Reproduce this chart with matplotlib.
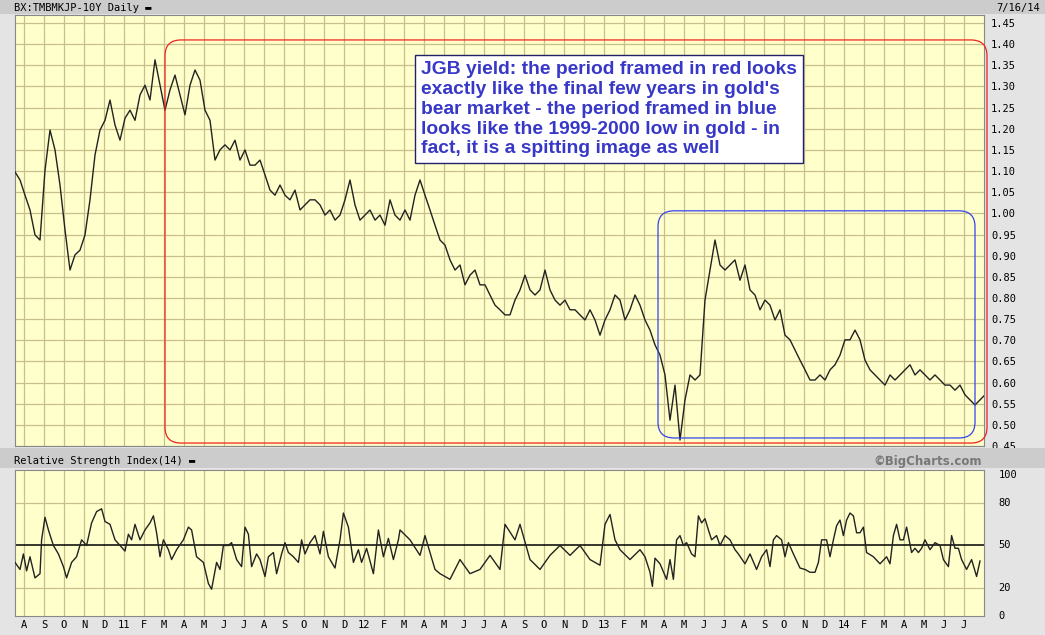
import numpy as np
import matplotlib
matplotlib.use("Agg")
import matplotlib.pyplot as plt
from matplotlib.patches import FancyBboxPatch

# 10Y JGB yield, roughly weekly from mid-July 2010 to mid-July 2014
yields = [1.098,1.079,1.043,1.008,0.949,0.937,1.102,1.197,1.150,1.067,0.961,0.866,0.902,0.913,0.949,1.032,1.138,1.197,1.220,1.268,
1.209,1.173,1.225,1.244,1.220,1.280,1.303,1.268,1.363,1.303,1.244,1.292,1.327,1.280,1.233,1.303,1.339,1.315,1.244,1.220,
1.126,1.150,1.162,1.150,1.173,1.126,1.150,1.114,1.114,1.126,1.091,1.055,1.043,1.067,1.043,1.032,1.055,1.008,1.020,1.032,
1.032,1.020,0.996,1.008,0.984,0.996,1.032,1.079,1.020,0.984,0.996,1.008,0.984,0.996,0.972,1.032,0.996,0.984,1.008,0.984,
1.043,1.079,1.043,1.008,0.972,0.937,0.925,0.890,0.866,0.878,0.831,0.854,0.866,0.831,0.831,0.807,0.783,0.772,0.760,0.760,
0.795,0.819,0.854,0.819,0.807,0.819,0.866,0.819,0.795,0.783,0.795,0.772,0.772,0.760,0.748,0.772,0.748,0.712,0.748,0.772,
0.807,0.795,0.748,0.772,0.807,0.783,0.748,0.724,0.689,0.665,0.618,0.511,0.594,0.464,0.559,0.618,0.606,0.618,0.795,0.866,
0.937,0.878,0.866,0.878,0.890,0.842,0.878,0.819,0.807,0.772,0.795,0.783,0.748,0.772,0.712,0.701,0.677,0.653,0.630,0.606,
0.606,0.618,0.606,0.630,0.642,0.665,0.701,0.701,0.724,0.701,0.653,0.630,0.618,0.606,0.594,0.618,0.606,0.618,0.630,0.642,
0.618,0.630,0.618,0.606,0.618,0.606,0.594,0.594,0.582,0.594,0.571,0.559,0.547,0.559,0.571]

# RSI(14): month index (0 = Aug 2010) and value
rsi_month = [-0.45,-0.2,-0.03,0.13,0.3,0.55,0.8,0.88,1.05,1.22,1.47,1.72,1.97,2.13,2.38,2.63,2.88,3.13,3.38,3.63,3.88,4.05,4.3,4.55,4.8,
5.05,5.22,5.38,5.55,5.8,6.05,6.3,6.47,6.63,6.8,6.97,7.22,7.38,7.63,7.97,8.22,8.38,8.63,8.97,9.22,9.38,9.63,9.8,9.97,10.22,10.38,
10.63,10.88,11.05,11.22,11.38,11.63,11.8,12.05,12.22,12.47,12.63,12.88,13.05,13.22,13.47,13.72,13.88,14.05,14.3,14.55,14.8,14.97,
15.22,15.55,15.8,15.97,16.22,16.47,16.72,16.88,17.13,17.47,17.72,17.97,18.22,18.47,18.72,
18.8,19.3,19.8,20.05,20.55,20.8,21.3,21.8,22.3,22.8,23.3,23.8,24.05,24.55,24.8,25.3,25.8,26.3,26.8,27.3,27.8,28.3,28.8,29.05,29.3,29.55,29.8,30.3,
30.8,31.05,31.3,31.42,31.55,31.8,32.13,32.3,32.47,32.63,32.8,32.97,33.13,33.38,33.55,33.72,33.88,34.05,34.22,34.38,34.63,34.8,35.05,35.3,
35.55,35.72,36.05,36.3,36.63,36.88,37.13,37.3,37.47,37.63,37.88,38.05,38.22,38.47,38.8,39.05,39.3,39.55,39.72,39.88,40.13,40.3,40.47,
40.63,40.8,40.97,41.13,41.3,41.47,41.63,41.8,41.97,42.13,42.47,42.8,43.13,43.3,43.47,43.63,43.8,43.97,44.13,44.38,44.55,44.72,44.88,
45.05,45.3,45.55,45.8,45.97,46.22,46.38,46.55,46.72,46.88,47.13,47.38,47.63,47.8]
rsi_vals = [38,33,44,32,42,27,30,54,70,61,50,44,35,27,38,42,54,50,66,74,76,67,65,54,50,
46,58,54,65,54,61,66,71,59,42,54,47,40,47,54,63,61,42,38,23,19,38,33,50,50,52,
40,35,63,58,35,44,40,28,42,45,30,44,52,45,42,38,54,44,52,57,44,60,
42,34,54,73,63,38,47,38,48,30,61,42,55,40,54,
61,54,43,57,33,30,26,40,30,33,43,33,65,54,65,40,33,43,50,43,50,40,36,65,72,54,47,40,
47,42,31,21,41,37,26,40,26,54,57,50,52,44,42,71,66,69,61,54,57,50,57,54,
47,44,37,44,33,42,47,35,54,57,54,42,52,44,34,33,31,31,38,54,54,42,54,
64,68,57,68,73,71,59,59,63,45,42,37,42,37,57,65,54,54,63,45,48,45,48,
54,47,52,50,40,35,57,48,48,40,33,40,28,39]

month_labels = ["A","S","O","N","D","11","F","M","A","M","J","J","A","S","O","N","D","12","F","M","A","M","J","J",
                "A","S","O","N","D","13","F","M","A","M","J","J","A","S","O","N","D","14","F","M","A","M","J","J"]
yticks = [0.45,0.50,0.55,0.60,0.65,0.70,0.75,0.80,0.85,0.90,0.95,1.00,1.05,1.10,1.15,1.20,1.25,1.30,1.35,1.40,1.45]
rsi_ticks = [0,20,50,80,100]

W, H = 1045, 635
fig = plt.figure(figsize=(W/100, H/100), dpi=100)
fig.patch.set_facecolor("#e4e4e4")
mono = "DejaVu Sans Mono"
bg = "#ffffcc"
gridc = "#c8c08c"

def fr(x0, y0, x1, y1):
    return [x0/W, 1-y1/H, (x1-x0)/W, (y1-y0)/H]

for (y0, y1) in [(0, 14), (448, 468)]:
    fig.patches.append(plt.Rectangle((0, 1-y1/H), 1, (y1-y0)/H, transform=fig.transFigure,
                                     facecolor="#cccccc", edgecolor="none", zorder=0))
fig.text(14/W, 1-8/H, "BX:TMBMKJP-10Y Daily \u25AC", family=mono, fontsize=7.5, va="center")
fig.text(1040/W, 1-8/H, "7/16/14", family=mono, fontsize=7.5, va="center", ha="right")
fig.text(14/W, 1-461/H, "Relative Strength Index(14) \u25AC", family=mono, fontsize=7.5, va="center")
fig.text(982/W, 1-461/H, "\u00a9BigCharts.com", fontsize=8.5, weight="bold", color="#777777", va="center", ha="right")

xl = (-0.45, 48.0)
ax = fig.add_axes(fr(15, 15, 984, 446))
ax.set_facecolor(bg)
xs = -0.45 + 0.25*np.arange(len(yields))
ax.plot(xs, yields, color="#222222", lw=1.0, zorder=3)
ax.set_xlim(*xl)
ax.set_ylim(0.45, 1.469)
ax.set_xticks(np.arange(len(month_labels)))
ax.set_yticks(yticks)
ax.grid(True, color=gridc, lw=0.9)
ax.tick_params(length=0, labelbottom=False, left=False, labelleft=False, right=False, labelright=True, labelsize=7.5, pad=5)
ax.set_yticklabels([f"{v:.2f}" for v in yticks])
for lbl in ax.get_yticklabels():
    lbl.set_family(mono)
for s in ax.spines.values():
    s.set_color("#888888")

ax.add_patch(FancyBboxPatch((7.05, 0.457), 48.15-7.05, 1.41-0.457,
             boxstyle="round,pad=0,rounding_size=0.8", mutation_aspect=0.047,
             fill=False, ec="#ee2222", lw=0.9, clip_on=False, zorder=4))
ax.add_patch(FancyBboxPatch((31.7, 0.469), 47.55-31.7, 1.006-0.469,
             boxstyle="round,pad=0,rounding_size=0.8", mutation_aspect=0.047,
             fill=False, ec="#3344ee", lw=0.9, clip_on=False, zorder=4))

fig.text(421/W, 1-61/H,
         "JGB yield: the period framed in red looks\nexactly like the final few years in gold's\n"
         "bear market - the period framed in blue\nlooks like the 1999-2000 low in gold - in\n"
         "fact, it is a spitting image as well",
         family="Liberation Sans", weight="bold", fontsize=13.9, color="#3838c8",
         va="top", ha="left", linespacing=1.22,
         bbox=dict(boxstyle="square,pad=0.3", fc="white", ec="#222266", lw=1.0), zorder=10)

ax2 = fig.add_axes(fr(15, 470, 984, 616))
ax2.set_facecolor(bg)
ax2.plot(rsi_month, rsi_vals, color="#222222", lw=1.0, zorder=3)
ax2.axhline(50, color="black", lw=1.1, zorder=2)
ax2.set_xlim(*xl)
ax2.set_ylim(0, 103.5)
ax2.set_xticks(np.arange(len(month_labels)))
ax2.set_xticklabels(month_labels, family=mono, fontsize=7.5)
ax2.set_yticks([20, 80])
ax2.grid(True, color=gridc, lw=0.9)
ax2.tick_params(length=0, left=False, labelleft=False, labelright=False, pad=3)
for v in rsi_ticks:
    ax2.text(1.015, v/103.5, str(v), transform=ax2.transAxes, family=mono, fontsize=7.5, va="center")
for s in ax2.spines.values():
    s.set_color("#888888")

fig.savefig("out.png", dpi=100, facecolor=fig.get_facecolor())
